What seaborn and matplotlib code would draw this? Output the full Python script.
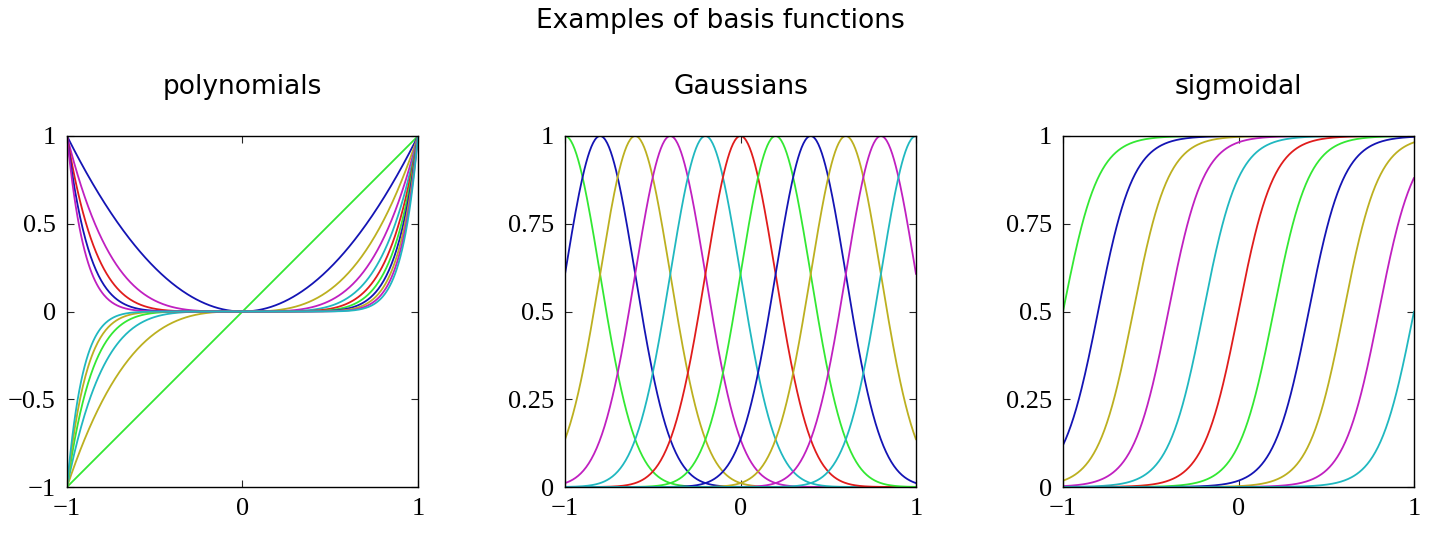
import numpy as np
import matplotlib
matplotlib.use("Agg")
import matplotlib.pyplot as plt
import seaborn as sns

sns.set_style("white")
colors = ["#33e833", "#1414b4", "#bcb020", "#c020c0", "#20b8c0", "#e01c1c"]
powers = [1, 2, 3, 4, 5, 6, 7, 8, 9, 10, 11]
centers = [-1.0, -0.8, -0.6, -0.4, -0.2, 0.0, 0.2, 0.4, 0.6, 0.8, 1.0]
gauss_s = 0.2
sig_s = 0.1
poly_ticks = [-1, -0.5, 0, 0.5, 1]
pos_ticks = [0, 0.25, 0.5, 0.75, 1]
x_ticks = [-1, 0, 1]

x = np.linspace(-1, 1, 400)
fig = plt.figure(figsize=(14.4, 5.41), dpi=100)
W, H = 351/1440, 351/541
lefts = [67/1440, 565/1440, 1063/1440]
bottom = 1 - 487/541
axes = [fig.add_axes([l, bottom, W, H]) for l in lefts]

for i, p in enumerate(powers):
    sns.lineplot(x=x, y=x**p, ax=axes[0], color=colors[i % 6], lw=1.3)
for i, c in enumerate(centers):
    sns.lineplot(x=x, y=np.exp(-(x-c)**2/(2*gauss_s**2)), ax=axes[1], color=colors[i % 6], lw=1.3)
    sns.lineplot(x=x, y=1/(1+np.exp(-(x-c)/sig_s)), ax=axes[2], color=colors[i % 6], lw=1.3)

titles = ["polynomials", "Gaussians", "sigmoidal"]
for k, ax in enumerate(axes):
    ax.set_xlim(-1, 1)
    ax.set_xticks(x_ticks)
    ax.set_xticklabels(["\u22121", "0", "1"])
    if k == 0:
        ax.set_ylim(-1, 1)
        ax.set_yticks(poly_ticks)
        ax.set_yticklabels(["\u22121", "\u22120.5", "0", "0.5", "1"])
    else:
        ax.set_ylim(0, 1)
        ax.set_yticks(pos_ticks)
        ax.set_yticklabels(["0", "0.25", "0.5", "0.75", "1"])
    for sp in ax.spines.values():
        sp.set_visible(True); sp.set_color("black"); sp.set_linewidth(1.0)
    ax.tick_params(direction="in", length=5, top=True, right=True, labelsize=19, pad=8,
                   bottom=True, left=True, labelcolor="black")
    for t in ax.get_xticklabels() + ax.get_yticklabels():
        t.set_family("Liberation Serif")
    ax.set_title(titles[k], fontsize=19, pad=30, family="DejaVu Sans", color="black")

fig.suptitle("Examples of basis functions", fontsize=19, y=0.985, family="DejaVu Sans", color="black")
fig.savefig("out.png", dpi=100)
